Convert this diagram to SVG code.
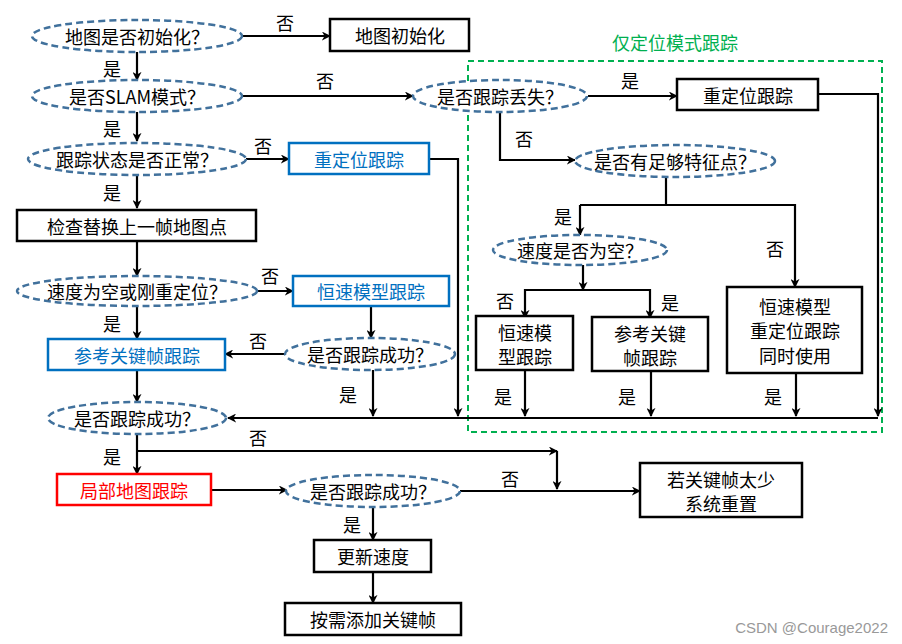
<svg xmlns="http://www.w3.org/2000/svg" width="902" height="644" viewBox="0 0 902 644">
<defs><marker id="a" viewBox="0 0 10 10" refX="9" refY="5" markerWidth="9" markerHeight="9" markerUnits="userSpaceOnUse" orient="auto"><path d="M0,0 L10,5 L0,10 L3,5 z" fill="#000"/></marker></defs>
<style>
text{font-family:"Noto Sans CJK SC","Noto Sans",sans-serif;font-size:18px;text-anchor:middle;dominant-baseline:central;fill:#000}
.d{fill:#fff;stroke:#41719C;stroke-width:2.5;stroke-dasharray:7 4}
.b{fill:#fff;stroke:#000;stroke-width:2.5}
.bl{fill:#fff;stroke:#0070C0;stroke-width:2.5}
.bt{fill:#0070C0}
.l{fill:none;stroke:#000;stroke-width:2.2}
.m{marker-end:url(#a)}
.s{font-size:17px}
</style>
<rect width="902" height="644" fill="#fff"/>
<rect x="468" y="61" width="414" height="371" fill="none" stroke="#00B050" stroke-width="2" stroke-dasharray="6 4"/>
<text x="675" y="42" style="fill:#00B050">仅定位模式跟踪</text>
<g id="connectors">
<path class="l m" d="M242,36H330"/><path class="l m" d="M137,52V80"/>
<path class="l m" d="M242,96H413"/><path class="l m" d="M588,96H677"/>
<path class="l m" d="M818,94H878V416"/>
<path class="l m" d="M500,111V160H575"/>
<path class="l" d="M666,177V205"/><path class="l m" d="M580,205V235"/><path class="l m" d="M580,205H795V287"/>
<path class="l m" d="M583,265V290"/><path class="l m" d="M583,290H525V318"/><path class="l m" d="M583,290H650V318"/>
<path class="l m" d="M525,370V416"/><path class="l m" d="M651,371V416"/><path class="l m" d="M796,373V416"/>
<path class="l m" d="M137,111V141"/><path class="l m" d="M246,159H289"/><path class="l m" d="M429,159H458V416"/>
<path class="l m" d="M137,174V208"/><path class="l m" d="M137,241V276"/>
<path class="l m" d="M256,291H293"/><path class="l m" d="M371,306V338"/><path class="l m" d="M285,354H225"/>
<path class="l m" d="M137,306V339"/><path class="l m" d="M373,370V416"/><path class="l m" d="M137,370V402"/>
<path class="l m" d="M878,418H228"/>
<path class="l m" d="M137,434V474"/><path class="l m" d="M137,451H557"/><path class="l m" d="M557,451V489"/>
<path class="l m" d="M211,490H287"/><path class="l m" d="M460,491H640"/>
<path class="l m" d="M373,507V540"/><path class="l m" d="M373,572V603"/>
</g>
<g id="labels">
<text x="285" y="22">否</text><text x="112" y="68">是</text><text x="325" y="80">否</text><text x="630" y="80">是</text>
<text x="524" y="138">否</text><text x="563" y="216">是</text><text x="775" y="248">否</text>
<text x="505" y="300">否</text><text x="670" y="302">是</text>
<text x="503" y="396">是</text><text x="627" y="396">是</text><text x="773" y="396">是</text>
<text x="112" y="128">是</text><text x="263" y="145">否</text><text x="112" y="192">是</text>
<text x="270" y="275">否</text><text x="258" y="340">否</text><text x="112" y="323">是</text><text x="348" y="394">是</text>
<text x="112" y="456">是</text><text x="258" y="437">否</text><text x="510" y="478">否</text><text x="352" y="524">是</text>
</g>
<g id="n1"><ellipse class="d" cx="137" cy="36" rx="105" ry="16"/><text x="137" y="36">地图是否初始化？</text></g>
<g id="n2"><rect class="b" x="330" y="19" width="139" height="32"/><text x="400" y="35">地图初始化</text></g>
<g id="n3"><ellipse class="d" cx="137" cy="96" rx="105" ry="16"/><text x="137" y="96">是否SLAM模式？</text></g>
<g id="n4"><ellipse class="d" cx="500" cy="96" rx="87" ry="16"/><text x="500" y="96">是否跟踪丢失？</text></g>
<g id="n5"><rect class="b" x="677" y="79" width="141" height="31"/><text x="748" y="95">重定位跟踪</text></g>
<g id="n6"><ellipse class="d" cx="675" cy="161" rx="100" ry="16"/><text x="675" y="161">是否有足够特征点？</text></g>
<g id="n7"><ellipse class="d" cx="580" cy="250" rx="87" ry="15"/><text x="580" y="250">速度是否为空？</text></g>
<g id="n8"><rect class="b" x="476" y="316" width="97" height="54"/><text x="525" y="332">恒速模</text><text x="525" y="356">型跟踪</text></g>
<g id="n9"><rect class="b" x="592" y="317" width="116" height="54"/><text x="650" y="333">参考关键</text><text x="650" y="357">帧跟踪</text></g>
<g id="n10"><rect class="b" x="727" y="287" width="135" height="86"/><text x="795" y="306">恒速模型</text><text x="795" y="330">重定位跟踪</text><text x="795" y="355">同时使用</text></g>
<g id="n11"><ellipse class="d" cx="137" cy="159" rx="109" ry="16"/><text x="137" y="159">跟踪状态是否正常？</text></g>
<g id="n12"><rect class="bl" x="289" y="143" width="140" height="31"/><text class="bt" x="359" y="159">重定位跟踪</text></g>
<g id="n13"><rect class="b" x="17" y="210" width="239" height="31"/><text x="137" y="226">检查替换上一帧地图点</text></g>
<g id="n14"><ellipse class="d" cx="137" cy="291" rx="120" ry="15"/><text x="137" y="291">速度为空或刚重定位？</text></g>
<g id="n15"><rect class="bl" x="293" y="276" width="156" height="30"/><text class="bt" x="371" y="291">恒速模型跟踪</text></g>
<g id="n16"><ellipse class="d" cx="370" cy="354" rx="85" ry="16"/><text x="370" y="354">是否跟踪成功？</text></g>
<g id="n17"><rect class="bl" x="48" y="339" width="177" height="31"/><text class="bt" x="137" y="355">参考关键帧跟踪</text></g>
<g id="n18"><ellipse class="d" cx="137" cy="418" rx="89" ry="16"/><text x="137" y="418">是否跟踪成功？</text></g>
<g id="n19"><rect x="57" y="474" width="154" height="31" fill="#fff" stroke="#FF0000" stroke-width="2.5"/><text x="134" y="490" style="fill:#FF0000">局部地图跟踪</text></g>
<g id="n20"><ellipse class="d" cx="373" cy="491" rx="87" ry="16"/><text x="373" y="491">是否跟踪成功？</text></g>
<g id="n21"><rect class="b" x="640" y="463" width="162" height="54"/><text x="721" y="479">若关键帧太少</text><text x="721" y="503">系统重置</text></g>
<g id="n22"><rect class="b" x="314" y="540" width="117" height="32"/><text x="373" y="556">更新速度</text></g>
<g id="n23"><rect class="b" x="285" y="603" width="176" height="32"/><text x="373" y="619">按需添加关键帧</text></g>
<text x="888" y="627" style="fill:#999;font-size:15px;text-anchor:end;font-family:'Liberation Sans',sans-serif">CSDN @Courage2022</text>
</svg>
